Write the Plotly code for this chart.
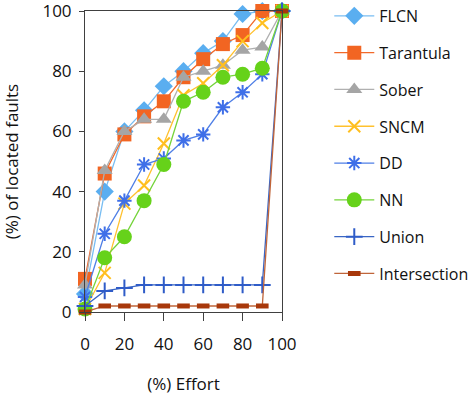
import plotly.graph_objects as go

effort = [0, 10, 20, 30, 40, 50, 60, 70, 80, 90, 100]

flcn = [6, 40, 60, 67, 75, 80, 86, 90, 99, 100, 100]
tarantula = [11, 46, 59, 65, 70, 78, 84, 89, 92, 100, 100]
sober = [9, 47, 60, 64, 64, 78, 80, 82, 87, 88, 100]
sncm = [1, 13, 36, 42, 56, 72, 76, 82, 90, 96, 100]
dd = [5, 26, 37, 49, 51, 57, 59, 68, 73, 79, 100]
nn = [1, 18, 25, 37, 49, 70, 73, 78, 79, 81, 100]
union = [2, 7, 8, 9, 9, 9, 9, 9, 9, 9, 100]
intersection = [0, 2, 2, 2, 2, 2, 2, 2, 2, 2, 100]

x_ticks = [0, 20, 40, 60, 80, 100]
y_ticks = [0, 20, 40, 60, 80, 100]

series = [
    ("FLCN", flcn, "#78bdf2", "#5aaef0", "diamond", 14, 0),
    ("Tarantula", tarantula, "#f2692a", "#f26522", "square", 14, 0),
    ("Sober", sober, "#b0b0b0", "#a5a5a5", "triangle-up", 14, 0),
    ("SNCM", sncm, "#ffc12e", "#ffbf1f", "x-thin-open", 12, 2),
    ("DD", dd, "#4f7fe6", "#3f6fe8", "asterisk-open", 12, 2),
    ("NN", nn, "#74d43a", "#66d21a", "circle", 15, 0),
    ("Union", union, "#3a66c4", "#2f5cc8", "cross-thin-open", 12, 2),
    ("Intersection", intersection, "#c0653a", "#a8380b", "line-ew-open", 9, 5),
]

fig = go.Figure()
for name, vals, lc, mc, sym, size, mlw in series:
    fig.add_trace(go.Scatter(
        x=effort, y=vals, name=name, mode="lines+markers",
        legendgroup=name,
        line=dict(color=lc, width=1.3),
        marker=dict(symbol=sym, size=size, color=mc,
                    line=dict(color=mc, width=mlw)),
        cliponaxis=False,
    ))

axis_font = dict(family="Open Sans, sans-serif", size=17, color="#111111")
fig.update_layout(
    width=474, height=395,
    margin=dict(l=85, r=192, t=11, b=83, autoexpand=False),
    paper_bgcolor="white", plot_bgcolor="white",
    font=dict(family="Open Sans, sans-serif", color="#111111"),
    showlegend=True,
    legend=dict(x=1.24, y=1.04, xanchor="left", yanchor="top",
                font=dict(family="Open Sans, sans-serif", size=16, color="#111111"),
                tracegroupgap=13, itemwidth=40, maxheight=395,
                bgcolor="rgba(0,0,0,0)"),
    xaxis=dict(range=[0, 100], tickvals=x_ticks, ticks="outside", ticklen=8,
               tickcolor="#404040", showline=True, linecolor="#404040",
               linewidth=1, mirror=True, showgrid=False, zeroline=False,
               tickfont=axis_font, ticklabelstandoff=9, automargin=False,
               ticklabeloverflow="allow",
               title=dict(text="(%) Effort", font=dict(family="Open Sans, sans-serif", size=17), standoff=26)),
    yaxis=dict(range=[0, 100], tickvals=y_ticks, ticks="outside", ticklen=5,
               tickcolor="#404040", showline=True, linecolor="#404040",
               linewidth=1, mirror=True, showgrid=False, zeroline=False,
               tickfont=axis_font, ticklabelstandoff=4, automargin=False,
               ticklabeloverflow="allow",
               title=dict(text="(%) of located faults", font=dict(family="Open Sans, sans-serif", size=17), standoff=32)),
)

fig.write_html("out.html", config={"displayModeBar": False},
               post_script="document.body.style.margin='0px';document.body.style.overflow='hidden';")
